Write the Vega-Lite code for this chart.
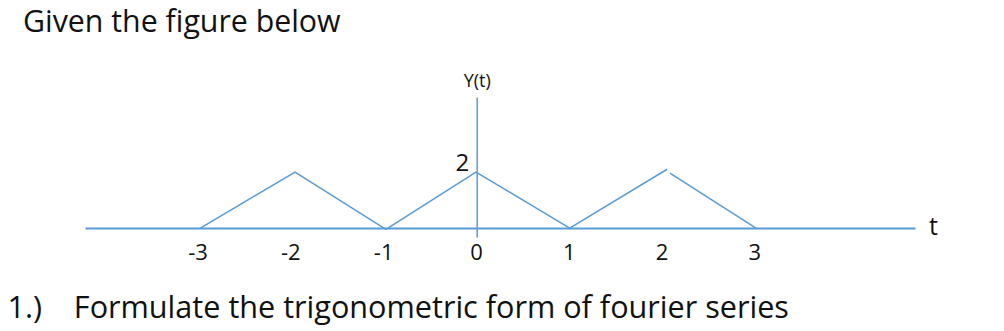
{
  "$schema": "https://vega.github.io/schema/vega-lite/v6.json",
  "width": 830,
  "height": 140,
  "autosize": {"type": "none"},
  "padding": {"left": 85, "top": 97, "right": 89, "bottom": 94},
  "background": "white",
  "config": {"view": {"stroke": null}, "font": "Open Sans"},
  "title": {
    "text": "Given the figure below",
    "anchor": "start",
    "frame": "group",
    "dx": -62,
    "offset": 34,
    "font": "Open Sans",
    "fontSize": 30.3,
    "fontWeight": "normal",
    "color": "#111111"
  },
  "data": {
    "values": [
      {"part": "a", "t": -2.97, "y": 0},
      {"part": "a", "t": -1.95, "y": 2},
      {"part": "a", "t": -0.97, "y": -0.05},
      {"part": "a", "t": 0, "y": 2},
      {"part": "a", "t": 1.01, "y": 0},
      {"part": "a", "t": 2.06, "y": 2.1},
      {"part": "b", "t": 2.09, "y": 1.96},
      {"part": "b", "t": 3.03, "y": -0.03}
    ]
  },
  "encoding": {
    "x": {
      "field": "t",
      "type": "quantitative",
      "scale": {"domain": [-4.213, 4.731], "nice": false, "zero": false},
      "axis": {
        "values": [-3, -2, -1, 0, 1, 2, 3],
        "offset": -9,
        "domainColor": "#5b9bd5",
        "domainWidth": 2,
        "ticks": false,
        "tickSize": 0,
        "grid": false,
        "labelFont": "Open Sans",
        "labelFontSize": 22,
        "labelColor": "#111111",
        "labelPadding": 14,
        "labelFlush": false,
        "labelExpr": "'' + datum.value",
        "title": "1.)\u00a0\u00a0\u00a0\u00a0Formulate the trigonometric form of fourier series",
        "titleX": -78,
        "titleY": 89,
        "titleAlign": "left",
        "titleAnchor": "start",
        "titleBaseline": "alphabetic",
        "titleFont": "Open Sans",
        "titleFontSize": 30.6,
        "titleFontWeight": "normal",
        "titleColor": "#111111"
      }
    },
    "y": {
      "field": "y",
      "type": "quantitative",
      "scale": {"domain": [-0.32, 4.68], "nice": false, "zero": false},
      "axis": {
        "orient": "left",
        "offset": -391.7,
        "values": [2],
        "domainColor": "#5b9bd5",
        "domainWidth": 1.5,
        "ticks": false,
        "tickSize": 0,
        "grid": false,
        "labelFont": "Open Sans",
        "labelFontSize": 24,
        "labelColor": "#111111",
        "labelPadding": 8,
        "labelBaseline": "alphabetic",
        "labelOffset": -2,
        "title": "Y(t)",
        "titleAngle": 0,
        "titleX": 0,
        "titleY": -16,
        "titleAlign": "center",
        "titleBaseline": "middle",
        "titleFont": "Open Sans",
        "titleFontSize": 18,
        "titleFontWeight": "normal",
        "titleColor": "#111111"
      }
    }
  },
  "layer": [
    {
      "transform": [{"filter": "datum.part == 'a'"}],
      "mark": {"type": "line", "color": "#5b9bd5", "strokeWidth": 1.5}
    },
    {
      "transform": [{"filter": "datum.part == 'b'"}],
      "mark": {"type": "line", "color": "#5b9bd5", "strokeWidth": 1.5},
      "encoding": {
        "y": {
          "field": "y",
          "type": "quantitative",
          "scale": {"domain": [-0.32, 4.68], "nice": false, "zero": false},
          "axis": {
            "orient": "right",
            "domain": false,
            "ticks": false,
            "labels": false,
            "grid": false,
            "title": "t",
            "titleAngle": 0,
            "titleX": 18,
            "titleY": 137,
            "titleAlign": "center",
            "titleBaseline": "alphabetic",
            "titleFont": "Open Sans",
            "titleFontSize": 25,
            "titleFontWeight": "normal",
            "titleColor": "#111111"
          }
        }
      }
    }
  ],
  "resolve": {"axis": {"y": "independent"}}
}
